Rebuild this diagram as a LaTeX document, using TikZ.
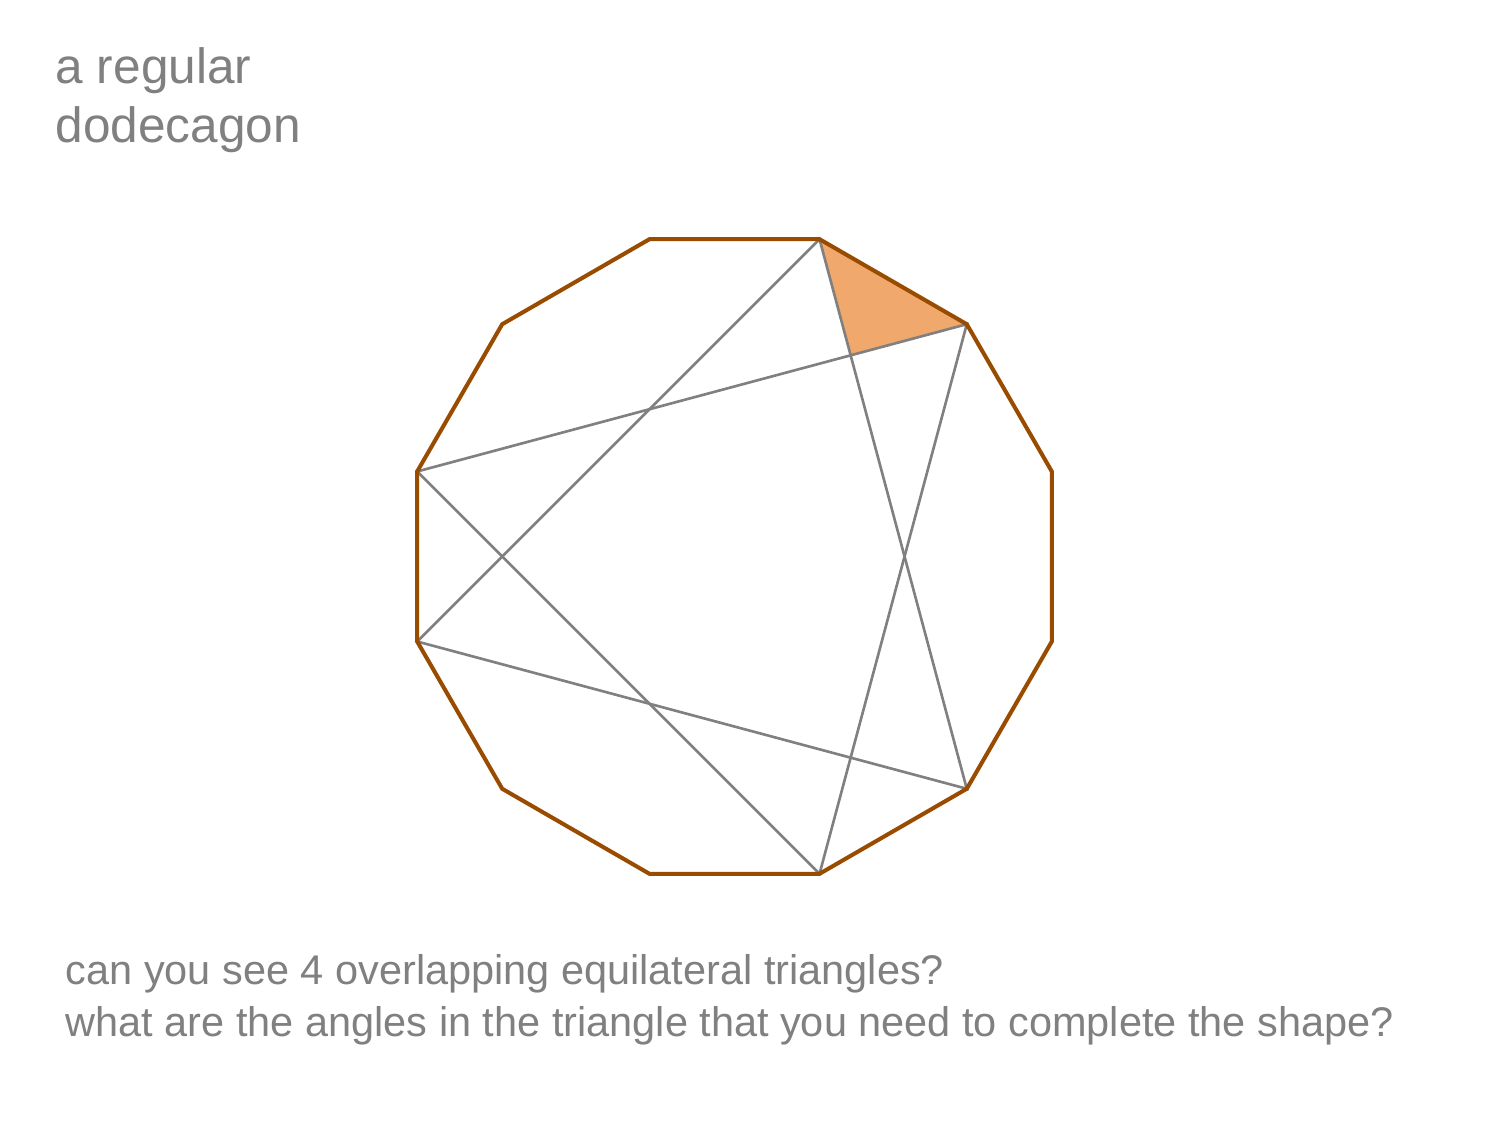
\documentclass[tikz,border=0pt]{standalone}
\usepackage{fontspec}
\setmainfont{Liberation Sans}
\usetikzlibrary{positioning}
\definecolor{rimbrown}{RGB}{153,76,0}
\definecolor{piecefill}{RGB}{240,168,108}
\definecolor{textgray}{RGB}{128,128,128}
\tikzset{rim/.style={draw=rimbrown, line width=1.15pt, line join=miter}}
\tikzset{chord/.style={draw=textgray, line width=0.75pt}}
\tikzset{piece/.style={fill=piecefill}}
\tikzset{note/.style={text=textgray, inner sep=0pt, anchor=north west, align=left}}

\begin{document}
\begin{tikzpicture}
\useasboundingbox (0,0) rectangle (15,11.25);

\node[note, font=\fontsize{14.1}{16.7}\selectfont] (title) at (0.55,10.78)
  {a regular\\dodecagon};
\node[note, font=\fontsize{11.8}{14.8}\selectfont] (question) at (0.65,1.71)
  {can you see 4 overlapping equilateral triangles?\\what are the angles in the triangle that you need to complete the shape?};

\begin{scope}[shift={(7.345,5.685)}]
\coordinate (p15) at (15:3.285);
\coordinate (p45) at (45:3.285);
\coordinate (p75) at (75:3.285);
\coordinate (p105) at (105:3.285);
\coordinate (p135) at (135:3.285);
\coordinate (p165) at (165:3.285);
\coordinate (p195) at (195:3.285);
\coordinate (p225) at (225:3.285);
\coordinate (p255) at (255:3.285);
\coordinate (p285) at (285:3.285);
\coordinate (p315) at (315:3.285);
\coordinate (p345) at (345:3.285);

\coordinate (cut) at (intersection of p75--p315 and p45--p165);

\fill[piece] (p75) -- (p45) -- (cut) -- cycle;

\draw[chord] (p75) -- (p195) -- (p315) -- cycle;
\draw[chord] (p45) -- (p165) -- (p285) -- cycle;

\draw[rim] (p15) -- (p45) -- (p75) -- (p105) -- (p135) -- (p165)
  -- (p195) -- (p225) -- (p255) -- (p285) -- (p315) -- (p345) -- cycle;
\end{scope}
\end{tikzpicture}
\end{document}
